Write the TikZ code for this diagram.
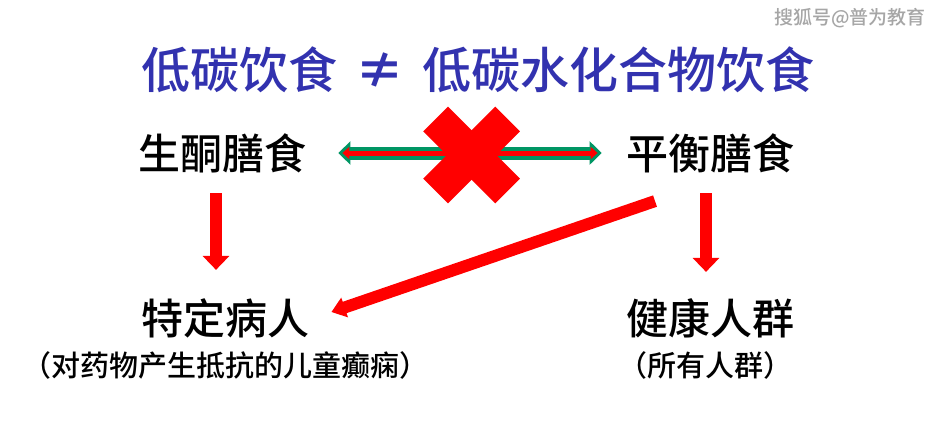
\documentclass[tikz,border=0pt]{standalone}
\usepackage{fontspec}
\newfontfamily\cjk{Noto Sans CJK SC}[UprightFont=* Medium,BoldFont=* Bold]
\usepackage{tikz}
\usetikzlibrary{arrows.meta,positioning}

\definecolor{titleblue}{RGB}{50,50,175}
\definecolor{linkgreen}{RGB}{0,150,100}

\begin{document}
\begin{tikzpicture}[x=0.5pt,y=-0.5pt,
                    title/.style={font=\cjk\fontsize{24.5}{26}\selectfont,text=titleblue},
                    diet/.style={font=\cjk\fontsize{21}{23}\selectfont,inner sep=7pt},
                    note/.style={font=\cjk\fontsize{14.5}{16}\selectfont},
                    downarrow/.style={red,line width=6pt,-{Triangle[width=13pt,length=7pt]}}]
  \useasboundingbox[fill=white] (0,0) rectangle (945,429);

  % title line
  \node[title] (head) at (478,70) {低碳饮食\hspace{9pt}{\bfseries ≠}\hspace{9pt}低碳水化合物饮食};
  \node[font=\cjk\fontsize{9.5}{10}\selectfont,text=gray!70] (mark) at (850,18) {搜狐号@普为教育};

  % diets and groups
  \node[diet] (keto) at (222,153) {生酮膳食};
  \node[diet] (balance) at (710,153) {平衡膳食};
  \node[diet] (sick) at (225,318) {特定病人};
  \node[diet] (healthy) at (710,318) {健康人群};
  \node[note] (sicknote) [below of=sick,node distance=23.5pt] {（对药物产生抵抗的儿童癫痫）};
  \node[note] (healthynote) [below of=healthy,node distance=23.5pt,xshift=-2.5pt] {（所有人群）};

  % link between the two diets
  \draw[linkgreen,line width=6.5pt,{Triangle[width=11.5pt,length=6pt]}-{Triangle[width=11.5pt,length=6pt]},
        shorten <=9pt,shorten >=5pt] (keto) -- (balance);
  \draw[red,line width=2.5pt,{Triangle[width=6pt,length=3.5pt]}-{Triangle[width=6pt,length=3.5pt]},
        shorten <=11pt,shorten >=7pt] (keto) -- (balance);

  % cross over the link
  \coordinate (cross) at (471.5,155);
  \draw[red,line width=17.5pt] (cross) ++(-36,-36) -- ++(72,72);
  \draw[red,line width=17.5pt] (cross) ++(36,-36) -- ++(-72,72);

  % arrows to the groups
  \draw[downarrow,shorten <=3pt,shorten >=7pt] ([xshift=-3pt]keto.south) -- ([xshift=-3pt]keto.south |- sick.north);
  \draw[downarrow,shorten <=3pt,shorten >=6pt] ([xshift=-2pt]balance.south) -- ([xshift=-2pt]balance.south |- healthy.north);
  \draw[red,line width=6pt,-{Triangle[width=10pt,length=7pt]}]
    ([xshift=-27.5pt,yshift=-7pt]balance.south) -- ([xshift=4pt,yshift=3pt]sick.east);
\end{tikzpicture}
\end{document}
